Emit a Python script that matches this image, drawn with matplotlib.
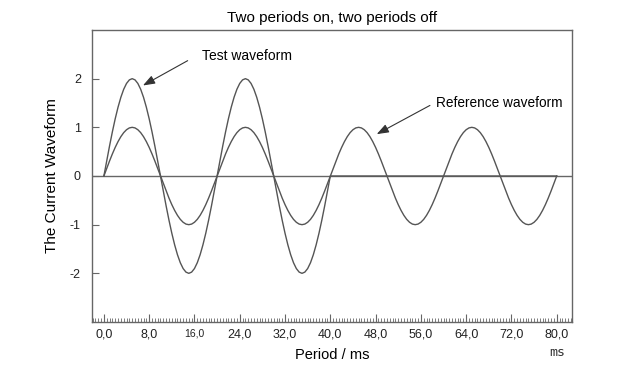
import matplotlib
matplotlib.use("Agg")
import matplotlib.pyplot as plt
from matplotlib.ticker import MultipleLocator

time_ms = [i * 0.5 for i in range(0, 161)]
ref_half = [0.000, 0.156, 0.309, 0.454, 0.588, 0.707, 0.809, 0.891, 0.951, 0.988,
            1.000, 0.988, 0.951, 0.891, 0.809, 0.707, 0.588, 0.454, 0.309, 0.156]
test_half = [0.000, 0.313, 0.618, 0.908, 1.176, 1.414, 1.618, 1.782, 1.902, 1.975,
             2.000, 1.975, 1.902, 1.782, 1.618, 1.414, 1.176, 0.908, 0.618, 0.313]
ref_period = ref_half + [-v for v in ref_half]
test_period = test_half + [-v for v in test_half]
off_period = [0.000] * 40
reference_wave = ref_period * 4 + [0.000]
test_wave = test_period * 2 + off_period * 2 + [0.000]

x_ticks = [0, 8, 16, 24, 32, 40, 48, 56, 64, 72, 80]
x_tick_labels = ["0,0", "8,0", "16,0", "24,0", "32,0", "40,0", "48,0", "56,0", "64,0", "72,0", "80,0"]
y_ticks = [-2, -1, 0, 1, 2]
y_tick_labels = ["-2", "-1", "0", "1", "2"]

plt.rcParams['font.family'] = ['Liberation Sans', 'DejaVu Sans']

fig = plt.figure(figsize=(6.36, 3.78), dpi=100)
ax = fig.add_axes([92/636, 1 - 322/378, (572-92)/636, (322-30)/378])

line_col = "#555555"
spine_col = "#666666"

ax.axhline(0, color=spine_col, lw=1.0, zorder=1)
ax.plot(time_ms, reference_wave, color=line_col, lw=1.0, zorder=2)
ax.plot(time_ms, test_wave, color=line_col, lw=1.0, zorder=2)

ax.set_xlim(-2.1, 82.7)
ax.set_ylim(-3.0, 3.0)

ax.set_xticks(x_ticks)
ax.set_xticklabels(x_tick_labels)
ax.xaxis.set_minor_locator(MultipleLocator(0.5))
ax.set_yticks(y_ticks)
ax.set_yticklabels(y_tick_labels)

ax.tick_params(axis='x', which='major', direction='in', length=6, width=0.8,
               color=spine_col, labelsize=9, pad=5, labelcolor="#222222")
ax.tick_params(axis='x', which='minor', direction='in', length=3, width=0.6, color=spine_col)
ax.tick_params(axis='y', which='major', direction='in', length=5, width=0.8,
               color=spine_col, labelsize=9, pad=8, labelcolor="#222222")

for lbl in ax.get_xticklabels():
    if lbl.get_text() == "16,0":
        lbl.set_fontsize(7.5)

for s in ax.spines.values():
    s.set_color(spine_col)
    s.set_linewidth(1.0)

ax.set_title("Two periods on, two periods off", fontsize=11, pad=6)
ax.set_xlabel("Period / ms", fontsize=10.5, labelpad=5)
ax.set_ylabel("The Current Waveform", fontsize=11, labelpad=8)

fig.text(557/636, 1 - 352/378, "ms", family="DejaVu Sans Mono", fontsize=9.5,
         ha="center", va="center", color="#333333")

arrow_kw = dict(arrowstyle="-|>,head_length=0.6,head_width=0.22", color="#333333",
                lw=0.8, mutation_scale=12, shrinkA=0, shrinkB=0)
ax.text(17.3, 2.47, "Test waveform", fontsize=10, ha="left", va="center")
ax.annotate("", xy=(6.9, 1.86), xytext=(14.8, 2.37), arrowprops=arrow_kw)
ax.text(58.7, 1.51, "Reference waveform", fontsize=9.8, ha="left", va="center")
ax.annotate("", xy=(48.2, 0.86), xytext=(57.6, 1.45), arrowprops=arrow_kw)

fig.savefig("out.png", dpi=100)
